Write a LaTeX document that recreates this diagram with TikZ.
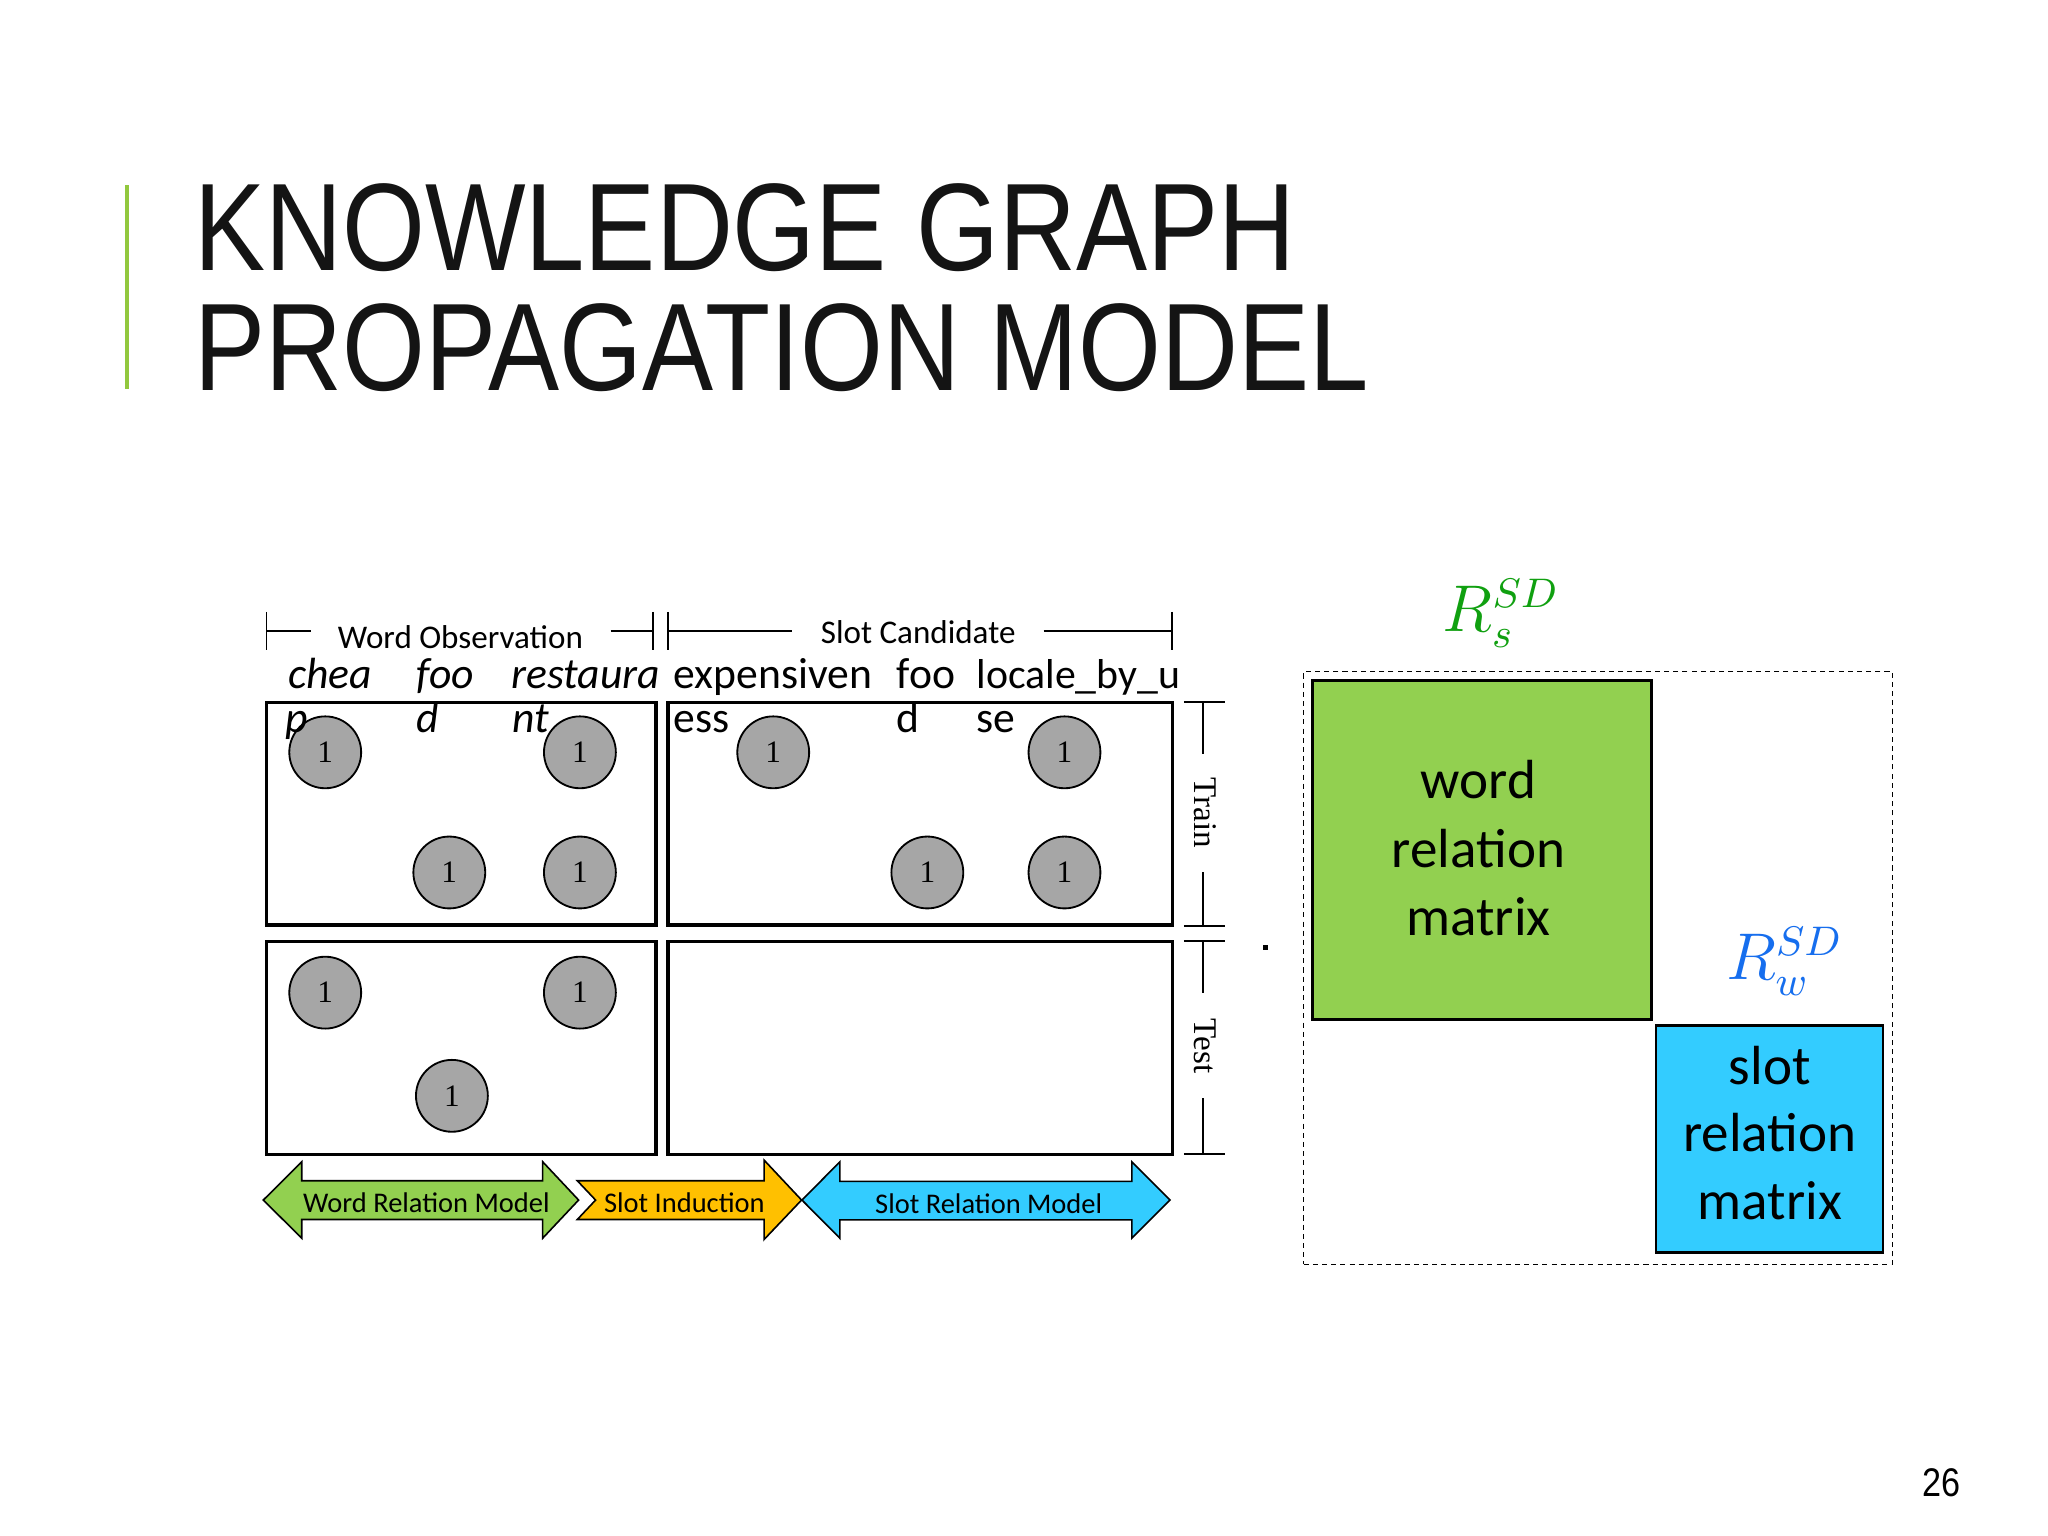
\documentclass[tikz,border=0pt]{standalone}
\usepackage{fontspec}
\setmainfont{Carlito}
\newfontfamily\titlefont[FakeStretch=0.856]{Liberation Sans}
\newfontfamily\serifnum{Liberation Serif}
\definecolor{accent}{RGB}{146,200,62}
\definecolor{mgreen}{RGB}{146,208,80}
\definecolor{mblue}{RGB}{51,204,255}
\definecolor{myellow}{RGB}{255,192,0}
\definecolor{circgray}{RGB}{166,166,166}
\definecolor{rgreen}{RGB}{16,160,16}
\definecolor{rblue}{RGB}{22,110,238}
\definecolor{titleink}{RGB}{20,20,20}
\begin{document}
\begin{tikzpicture}[x=0.01cm,y=-0.01cm,
  gridbox/.style={draw=black, line width=0.75pt, inner sep=0, rectangle},
  onecirc/.style={circle, draw=black, line width=0.4pt, fill=circgray, minimum size=0.55cm, inner sep=0, font=\serifnum\fontsize{6.8}{8}\selectfont},
  colword/.style={anchor=base west, inner sep=0, font=\fontsize{9.5}{11}\selectfont\itshape},
  colslot/.style={anchor=base west, inner sep=0, font=\fontsize{9.5}{11}\selectfont},
  hdr/.style={anchor=base, inner sep=0, font=\fontsize{7.2}{9}\selectfont},
  brk/.style={line width=0.4pt},
  arrowshape/.style={draw=black, line width=0.35pt},
  arrowtext/.style={anchor=base, inner sep=0, font=\fontsize{6.2}{7.5}\selectfont},
  mattext/.style={anchor=base, inner sep=0, font=\fontsize{12}{14}\selectfont},
  sidelabel/.style={rotate=-90, inner sep=0, font=\serifnum\fontsize{7.2}{9}\selectfont},
  titletext/.style={anchor=base west, inner sep=0, text=titleink, font=\titlefont\fontsize{27.1}{30}\selectfont},
  matbox/.style={draw=black, line width=0.6pt, inner sep=0, rectangle},
  rlabel/.style={anchor=base west, inner sep=0, font=\fontsize{13.5}{16}\selectfont},
]
\useasboundingbox (0,0) rectangle (1568,1176);
\fill[white] (0,0) rectangle (1568,1176);

% title
\draw[accent, line width=0.85pt] (97.5,142) -- (97.5,298);
\node[titletext] (title1) at (148,207.3) {KNOWLEDGE GRAPH};
\node[titletext] (title2) at (148,299.2) {PROPAGATION MODEL};
\node[anchor=base east, inner sep=0, font=\titlefont\fontsize{8.7}{10}\selectfont] (pagenum) at (1502,1145.5) {26};

% grid boxes
\node[gridbox, minimum width=2.98cm, minimum height=1.70cm] (boxTL) at (353,623) {};
\node[gridbox, minimum width=3.86cm, minimum height=1.70cm] (boxTR) at (704.5,623) {};
\node[gridbox, minimum width=2.98cm, minimum height=1.63cm] (boxBL) at (353,802.5) {};
\node[gridbox, minimum width=3.86cm, minimum height=1.63cm] (boxBR) at (704.5,802.5) {};

% circles
\node[onecirc] (c1) at (249,576) {1};
\node[onecirc] (c2) at (444,576) {1};
\node[onecirc] (c3) at (344,668) {1};
\node[onecirc] (c4) at (444,668) {1};
\node[onecirc] (c5) at (592,576) {1};
\node[onecirc] (c6) at (815,576) {1};
\node[onecirc] (c7) at (710,668) {1};
\node[onecirc] (c8) at (815,668) {1};
\node[onecirc] (c9) at (249,760) {1};
\node[onecirc] (c10) at (444,760) {1};
\node[onecirc] (c11) at (346,839) {1};

% column labels
\node[colword] (w1a) at (220,527.5) {chea};
\node[colword] (w1b) at (218,560.5) {p};
\node[colword] (w2a) at (318,527.5) {foo};
\node[colword] (w2b) at (318,560.5) {d};
\node[colword] (w3a) at (391,527.5) {restaura};
\node[colword] (w3b) at (392,560.5) {nt};
\node[colslot] (s1a) at (515,527.5) {expensiven};
\node[colslot] (s1b) at (515,560.5) {ess};
\node[colslot] (s2a) at (686,527.5) {foo};
\node[colslot] (s2b) at (686,560.5) {d};
\node[colslot, font=\fontsize{9.1}{11}\selectfont] (s3a) at (747,527.5) {locale\_by\_u};
\node[colslot] (s3b) at (747,560.5) {se};

% header brackets
\node[hdr] (wordobs) at (352.5,496.4) {Word Observation};
\node[hdr] (slotcand) at (703,492.6) {Slot Candidate};
\coordinate (woL) at (204,483);
\coordinate (woR) at (500,483);
\coordinate (scL) at (511.5,483);
\coordinate (scR) at (897.5,483);
\draw[brk] ([yshift=0.145cm]woL) -- ([yshift=-0.145cm]woL);
\draw[brk] (woL) -- (238,483);
\draw[brk] (467.5,483) -- (woR);
\draw[brk] ([yshift=0.145cm]woR) -- ([yshift=-0.145cm]woR);
\draw[brk] ([yshift=0.145cm]scL) -- ([yshift=-0.145cm]scL);
\draw[brk] (scL) -- (606,483);
\draw[brk] (799,483) -- (scR);
\draw[brk] ([yshift=0.145cm]scR) -- ([yshift=-0.145cm]scR);

% train / test brackets
\node[sidelabel] (trainlbl) at (923,622.5) {Train};
\node[sidelabel] (testlbl) at (923,801) {Test};
\coordinate (trT) at (921,537.5);
\coordinate (trB) at (921,709);
\coordinate (teT) at (921,720.5);
\coordinate (teB) at (921,883.5);
\draw[brk] ([xshift=-0.145cm]trT) -- ([xshift=0.17cm]trT);
\draw[brk] (trT) -- (921,577);
\draw[brk] (921,668) -- (trB);
\draw[brk] ([xshift=-0.145cm]trB) -- ([xshift=0.17cm]trB);
\draw[brk] ([xshift=-0.145cm]teT) -- ([xshift=0.17cm]teT);
\draw[brk] (teT) -- (921,760);
\draw[brk] (921,841) -- (teB);
\draw[brk] ([xshift=-0.145cm]teB) -- ([xshift=0.17cm]teB);

% product dot
\fill[black] (967,723.5) rectangle (971,727.5);

% bottom arrows
\draw[arrowshape, fill=mgreen] (201.6,918.8) -- (231,889.5) -- (231,904) -- (415.5,904) -- (415.5,889.5)
  -- (443,918.8) -- (415.5,948) -- (415.5,933.7) -- (231,933.7) -- (231,948) -- cycle;
\draw[arrowshape, fill=myellow] (442,904) -- (585,904) -- (585,888.2) -- (613.7,918.8) -- (585,949)
  -- (585,933.7) -- (442,933.7) -- (456,918.8) -- cycle;
\draw[arrowshape, fill=mblue] (614,918.8) -- (643,889.6) -- (643,904.5) -- (866.6,904.5) -- (866.6,889.6)
  -- (895.8,918.8) -- (866.6,948) -- (866.6,934) -- (643,934) -- (643,948) -- cycle;
\node[arrowtext] (wrm) at (326.5,928) {Word Relation Model};
\node[arrowtext] (si) at (524,928) {Slot Induction};
\node[arrowtext] (srm) at (757,929) {Slot Relation Model};

% right: matrices
\node[draw=black, dashed, dash pattern=on 1.1pt off 0.9pt, line width=0.3pt, inner sep=0,
  minimum width=4.507cm, minimum height=4.537cm] (outer) at (1223.55,741.1) {};
\node[matbox, fill=mgreen, minimum width=2.595cm, minimum height=2.596cm] (wmat) at (1134.75,650.8) {};
\node[matbox, fill=mblue, minimum width=1.737cm, minimum height=1.737cm] (smat) at (1354.85,871.85) {};
\node[mattext] (wm1) at (1132,611) {word};
\node[mattext] (wm2) at (1132,664) {relation};
\node[mattext] (wm3) at (1132,716) {matrix};
\node[mattext] (sm1) at (1355,830) {slot};
\node[mattext] (sm2) at (1355,882) {relation};
\node[mattext] (sm3) at (1355,934) {matrix};
\node[rlabel, text=rgreen] (rs) at (1104,483.5) {$R_{s}^{SD}$};
\node[rlabel, text=rblue] (rw) at (1321,750) {$R_{w}^{SD}$};
\end{tikzpicture}
\end{document}
